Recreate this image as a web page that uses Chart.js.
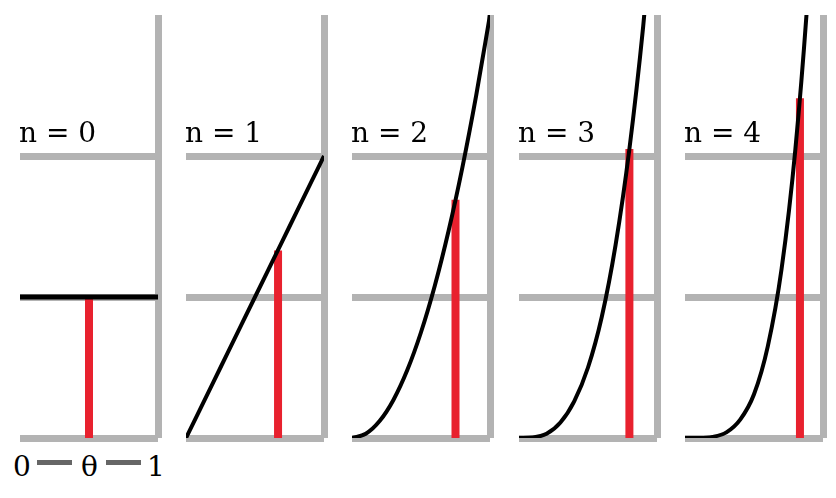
<!DOCTYPE html>
<html>
<head>
<meta charset="utf-8">
<script src="https://cdn.jsdelivr.net/npm/chart.js@4/dist/chart.umd.min.js"></script>
<style>
    html, body { margin: 0; padding: 0; background: #fff; }
    #stage { position: relative; width: 836px; height: 498px; overflow: hidden; font-family: "DejaVu Serif", serif; }
    .panel { position: absolute; top: 3px; }
    .lbl { position: absolute; font-size: 28px; line-height: 28px; color: #000; white-space: pre; }
    .dash { position: absolute; height: 5px; background: #666; }
</style>
</head>
<body>
<div id="stage"></div>
<script>
const thetaGrid = [0, 0.1, 0.2, 0.3, 0.4, 0.5, 0.6, 0.7, 0.8, 0.9, 1];

// density curves, one per panel (values above 3 get clipped)
const densityN0 = [1, 1, 1, 1, 1, 1, 1, 1, 1, 1, 1];
const densityN1 = [0, 0.2, 0.4, 0.6, 0.8, 1, 1.2, 1.4, 1.6, 1.8, 2];
const densityN2 = [0, 0.03, 0.12, 0.27, 0.48, 0.75, 1.08, 1.47, 1.92, 2.43, 3];
const densityN3 = [0, 0.004, 0.03, 0.11, 0.26, 0.5, 0.86, 1.37, 2.05, 2.92, 4];
const densityN4 = [0, 0.0005, 0.008, 0.04, 0.13, 0.31, 0.65, 1.2, 2.05, 3.28, 5];

// red bar per panel: where it stands and how tall it is
const meanTheta = [0.5, 0.667, 0.75, 0.8, 0.833];
const meanHeight = [1, 1.33, 1.69, 2.05, 2.41];

const panelLabels = ['n = 0', 'n = 1', 'n = 2', 'n = 3', 'n = 4'];
const yTicks = [0, 1, 2];

(function(){
    const stage = document.getElementById('stage');
    const curves = [densityN0, densityN1, densityN2, densityN3, densityN4];
    const panelLeft = [20, 186, 352, 519, 685];
    const panelWidth = 138;
    const pad = 12;

    const gray = '#b3b3b3';
    const red = '#e8212e';

    curves.forEach(function(curve, i){
        let wrap = document.createElement('div');
        wrap.className = 'panel';
        wrap.style.left = (panelLeft[i] - pad) + 'px';
        let cv = document.createElement('canvas');
        cv.width = panelWidth + pad * 2;
        cv.height = 444;
        wrap.appendChild(cv);
        stage.appendChild(wrap);

        let label = document.createElement('div');
        label.className = 'lbl';
        label.textContent = panelLabels[i];
        label.style.left = (panelLeft[i] - 1) + 'px';
        label.style.top = '119px';
        stage.appendChild(label);

        new Chart(cv, {
            type: 'line',
            data: {
                datasets: [{
                    data: thetaGrid.map(function(t, k){ return { x: t, y: curve[k] }; }),
                    borderColor: '#000',
                    borderWidth: i === 0 ? 5 : 4,
                    pointRadius: 0,
                    fill: false,
                    cubicInterpolationMode: 'monotone',
                    clip: 0
                }, {
                    data: [{ x: meanTheta[i], y: 0 }, { x: meanTheta[i], y: meanHeight[i] }],
                    borderColor: red,
                    borderWidth: 8,
                    pointRadius: 0,
                    fill: false,
                    clip: false
                }]
            },
            options: {
                responsive: false,
                animation: false,
                events: [],
                layout: {
                    padding: { left: pad, right: pad, top: pad, bottom: pad - 3 }
                },
                plugins: {
                    legend: { display: false },
                    tooltip: { enabled: false }
                },
                scales: {
                    x: {
                        type: 'linear',
                        min: 0,
                        max: 1,
                        ticks: { display: false, stepSize: 1 },
                        border: { display: false },
                        grid: {
                            drawTicks: false,
                            lineWidth: 7,
                            color: function(ctx){ return ctx.tick && ctx.tick.value === 1 ? gray : 'rgba(0,0,0,0)'; }
                        }
                    },
                    y: {
                        min: 0,
                        max: 3,
                        ticks: { display: false, stepSize: 1 },
                        border: { display: false },
                        grid: {
                            drawTicks: false,
                            lineWidth: 7,
                            color: function(ctx){ return ctx.tick && yTicks.indexOf(ctx.tick.value) > -1 ? gray : 'rgba(0,0,0,0)'; }
                        }
                    }
                }
            }
        });
    });

    // the "0 — θ — 1" key under the first panel
    let keyParts = [['0', 13], ['θ', 81], ['1', 147]];
    keyParts.forEach(function(p){
        let t = document.createElement('div');
        t.className = 'lbl';
        t.textContent = p[0];
        t.style.left = p[1] + 'px';
        t.style.top = '453px';
        stage.appendChild(t);
    });
    [[37, 35], [106, 35]].forEach(function(d){
        let s = document.createElement('div');
        s.className = 'dash';
        s.style.left = d[0] + 'px';
        s.style.width = d[1] + 'px';
        s.style.top = '460px';
        stage.appendChild(s);
    });
})();
</script>
</body>
</html>
